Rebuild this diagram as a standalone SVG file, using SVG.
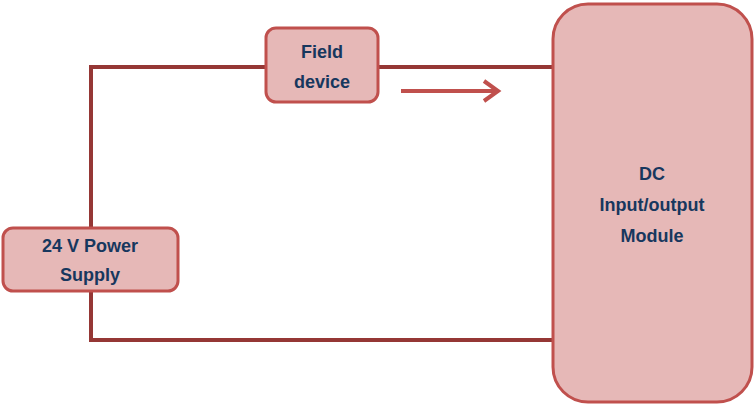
<svg xmlns="http://www.w3.org/2000/svg" width="756" height="406" viewBox="0 0 756 406">
<style>
.box{fill:#e6b8b7;stroke:#c0504d;stroke-width:3}
.t{font-family:"Liberation Sans",Arial,sans-serif;font-weight:bold;font-size:18px;fill:#17375e;text-anchor:middle}
.w{fill:none;stroke:#953735;stroke-width:4}
</style>
<defs><marker id="a" markerWidth="10" markerHeight="10" refX="8" refY="5" orient="auto" markerUnits="userSpaceOnUse"><path d="M0,-3 L10,5 L0,13" transform="scale(1)" fill="none" stroke="#c0504d" stroke-width="3"/></marker></defs>
<g id="connectors">
<path class="w" d="M553,67 H91 V340 H553"/>
<path d="M401,91 H497" stroke="#c0504d" stroke-width="4" fill="none"/>
<path d="M484,81 L498,91 L484,101" stroke="#c0504d" stroke-width="4" fill="none"/>
</g>
<g id="field"><rect class="box" x="266" y="28" width="112" height="74" rx="10"/><text class="t" x="322" y="58">Field</text><text class="t" x="322" y="88">device</text></g>
<g id="power"><rect class="box" x="3" y="228" width="175" height="63" rx="10"/><text class="t" x="90" y="252">24 V Power</text><text class="t" x="90" y="281">Supply</text></g>
<g id="module"><rect class="box" x="553" y="4" width="199" height="398" rx="35"/><text class="t" x="652" y="180">DC</text><text class="t" x="652" y="211">Input/output</text><text class="t" x="652" y="242">Module</text></g>
</svg>
